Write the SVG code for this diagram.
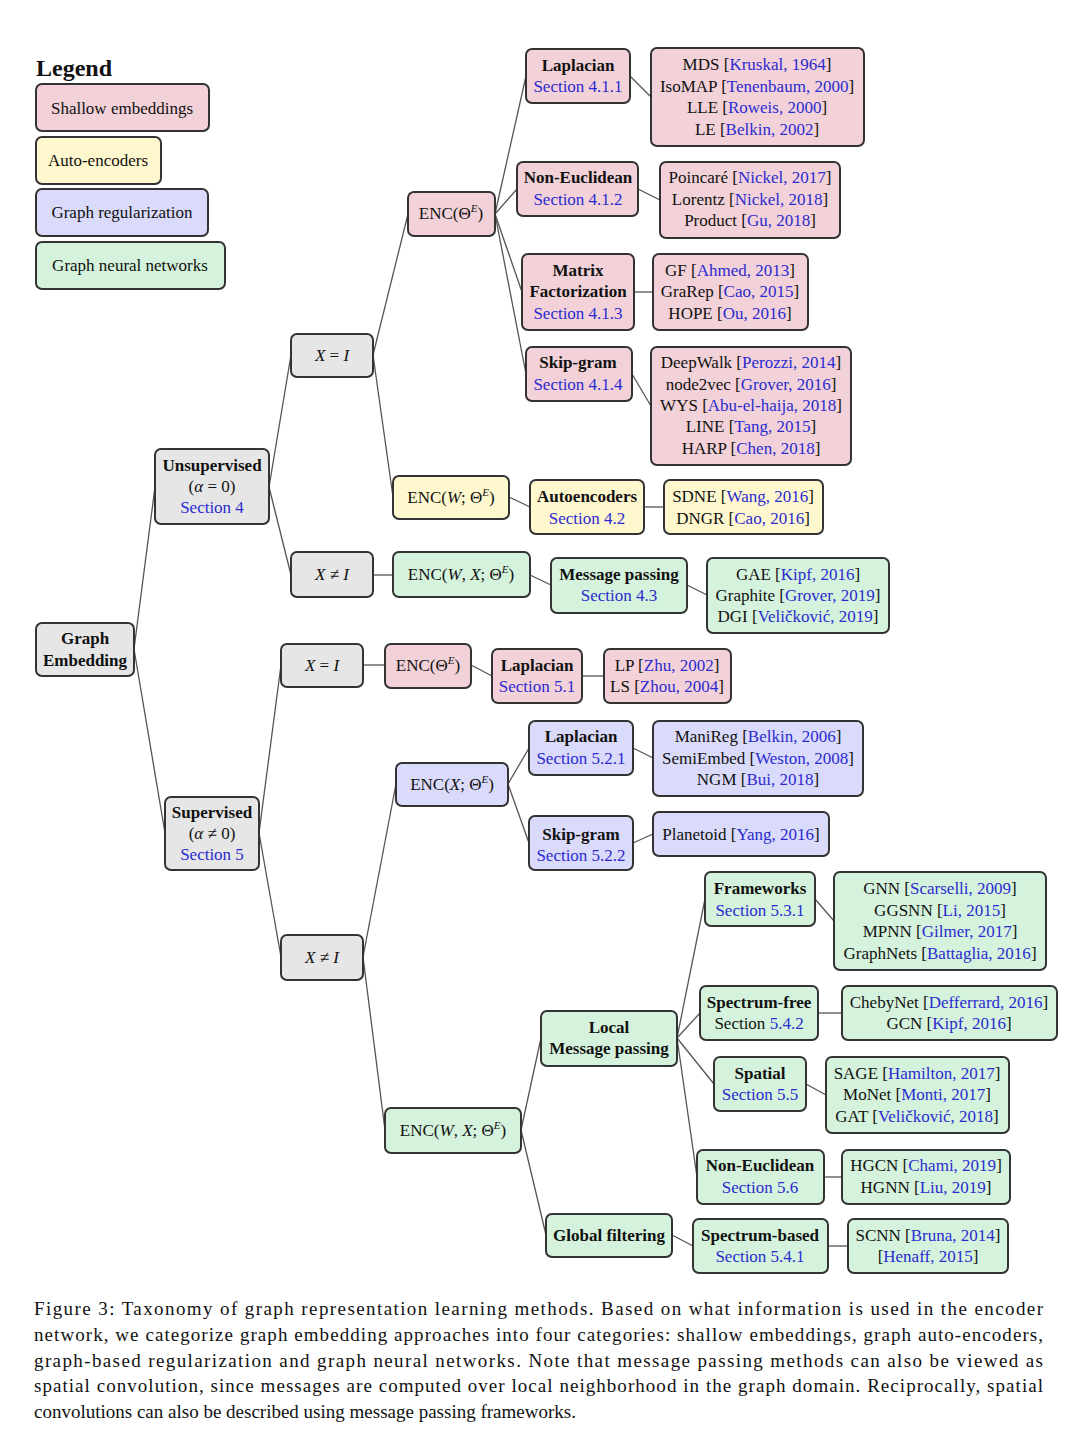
<svg xmlns="http://www.w3.org/2000/svg" width="1074" height="1448" viewBox="0 0 1074 1448">
<style>
text{font-family:"Liberation Serif","DejaVu Serif",serif;font-size:17px;fill:#111;text-anchor:middle}
.b{fill:#2b2bd0}
.bd{font-weight:bold}
.i{font-style:italic}
.cap{text-anchor:start;font-size:19px}
rect{stroke:#333;stroke-width:2;rx:6;ry:6}
.pk{fill:#f2d1d8}.ye{fill:#fff8cf}.bl{fill:#dadafa}.gr{fill:#d5f3dc}.gy{fill:#e6e6e6}
#conn line{stroke:#555;stroke-width:1.3}
</style>
<rect width="1074" height="1448" fill="#fff" style="stroke:none"/>
<g id="conn">
<line x1="134" y1="649" x2="155" y2="487"/><line x1="134" y1="649" x2="165" y2="833"/>
<line x1="269" y1="487" x2="291" y2="355"/><line x1="269" y1="487" x2="291" y2="575"/>
<line x1="373" y1="355" x2="408" y2="214"/><line x1="373" y1="355" x2="393" y2="497"/>
<line x1="373" y1="575" x2="393" y2="575"/>
<line x1="495" y1="214" x2="526" y2="76"/><line x1="495" y1="214" x2="517" y2="189"/>
<line x1="495" y1="214" x2="522" y2="292"/><line x1="495" y1="214" x2="526" y2="374"/>
<line x1="630" y1="76" x2="651" y2="97"/><line x1="638" y1="189" x2="660" y2="200"/>
<line x1="634" y1="292" x2="653" y2="292"/><line x1="632" y1="374" x2="651" y2="406"/>
<line x1="509" y1="497" x2="530" y2="507"/><line x1="644" y1="507" x2="664" y2="507"/>
<line x1="530" y1="575" x2="551" y2="585"/><line x1="687" y1="585" x2="707" y2="595"/>
<line x1="259" y1="833" x2="281" y2="665"/><line x1="259" y1="833" x2="281" y2="957"/>
<line x1="363" y1="665" x2="385" y2="665"/><line x1="471" y1="665" x2="492" y2="676"/><line x1="582" y1="676" x2="604" y2="676"/>
<line x1="363" y1="957" x2="396" y2="784"/><line x1="363" y1="957" x2="385" y2="1130"/>
<line x1="508" y1="784" x2="529" y2="748"/><line x1="508" y1="784" x2="529" y2="843"/>
<line x1="633" y1="748" x2="653" y2="758"/><line x1="633" y1="843" x2="653" y2="834"/>
<line x1="521" y1="1130" x2="541" y2="1038"/><line x1="521" y1="1130" x2="546" y2="1235"/>
<line x1="677" y1="1038" x2="705" y2="899"/><line x1="677" y1="1038" x2="700" y2="1013"/>
<line x1="677" y1="1038" x2="714" y2="1084"/><line x1="677" y1="1038" x2="697" y2="1177"/>
<line x1="815" y1="899" x2="834" y2="921"/><line x1="818" y1="1013" x2="842" y2="1013"/>
<line x1="806" y1="1084" x2="826" y2="1095"/><line x1="824" y1="1177" x2="842" y2="1177"/>
<line x1="672" y1="1235" x2="693" y2="1246"/><line x1="828" y1="1246" x2="848" y2="1246"/>
</g>
<g id="legend">
<text x="36" y="76" style="text-anchor:start;font-size:24px" class="bd">Legend</text>
<rect class="pk" x="36" y="84" width="173" height="47"/><text x="122" y="114">Shallow embeddings</text>
<rect class="ye" x="36" y="137" width="125" height="47"/><text x="98" y="166">Auto-encoders</text>
<rect class="bl" x="36" y="189" width="172" height="47"/><text x="122" y="218">Graph regularization</text>
<rect class="gr" x="36" y="242" width="189" height="47"/><text x="130" y="271">Graph neural networks</text>
</g>
<g id="n-ge"><rect class="gy" x="36" y="623" width="98" height="53"/><text x="85" y="644" class="bd">Graph</text><text x="85" y="666" class="bd">Embedding</text></g>
<g id="n-unsup"><rect class="gy" x="155" y="449" width="114" height="75"/><text x="212" y="471" class="bd">Unsupervised</text><text x="212" y="492">(<tspan class="i">α</tspan> = 0)</text><text x="212" y="513" class="b">Section 4</text></g>
<g id="n-sup"><rect class="gy" x="165" y="797" width="94" height="73"/><text x="212" y="818" class="bd">Supervised</text><text x="212" y="839">(<tspan class="i">α</tspan> ≠ 0)</text><text x="212" y="860" class="b">Section 5</text></g>
<g id="n-xi1"><rect class="gy" x="291" y="334" width="82" height="43"/><text x="332" y="361"><tspan class="i">X</tspan> = <tspan class="i">I</tspan></text></g>
<g id="n-xn1"><rect class="gy" x="291" y="552" width="82" height="45"/><text x="332" y="580"><tspan class="i">X</tspan> ≠ <tspan class="i">I</tspan></text></g>
<g id="n-enc1"><rect class="pk" x="408" y="192" width="87" height="44"/><text x="451" y="219">ENC(Θ<tspan dy="-7" font-size="11" class="i">E</tspan><tspan dy="7">)</tspan></text></g>
<g id="n-enc2"><rect class="ye" x="393" y="476" width="116" height="43"/><text x="451" y="503">ENC(<tspan class="i">W</tspan>; Θ<tspan dy="-7" font-size="11" class="i">E</tspan><tspan dy="7">)</tspan></text></g>
<g id="n-enc3"><rect class="gr" x="393" y="552" width="137" height="45"/><text x="461" y="580">ENC(<tspan class="i">W</tspan>, <tspan class="i">X</tspan>; Θ<tspan dy="-7" font-size="11" class="i">E</tspan><tspan dy="7">)</tspan></text></g>
<g id="n-lap1"><rect class="pk" x="526" y="49" width="104" height="54"/><text x="578" y="71" class="bd">Laplacian</text><text x="578" y="92" class="b">Section 4.1.1</text></g>
<g id="n-ne1"><rect class="pk" x="517" y="162" width="121" height="54"/><text x="578" y="183" class="bd">Non-Euclidean</text><text x="578" y="205" class="b">Section 4.1.2</text></g>
<g id="n-mf"><rect class="pk" x="522" y="254" width="112" height="76"/><text x="578" y="276" class="bd">Matrix</text><text x="578" y="297" class="bd">Factorization</text><text x="578" y="319" class="b">Section 4.1.3</text></g>
<g id="n-sg1"><rect class="pk" x="526" y="347" width="106" height="54"/><text x="578" y="368" class="bd">Skip-gram</text><text x="578" y="390" class="b">Section 4.1.4</text></g>
<g id="l-mds"><rect class="pk" x="651" y="48" width="213" height="98"/>
<text x="757" y="70">MDS [<tspan class="b">Kruskal, 1964</tspan>]</text><text x="757" y="92">IsoMAP [<tspan class="b">Tenenbaum, 2000</tspan>]</text><text x="757" y="113">LLE [<tspan class="b">Roweis, 2000</tspan>]</text><text x="757" y="135">LE [<tspan class="b">Belkin, 2002</tspan>]</text></g>
<g id="l-poin"><rect class="pk" x="660" y="162" width="180" height="76"/>
<text x="750" y="183">Poincaré [<tspan class="b">Nickel, 2017</tspan>]</text><text x="750" y="205">Lorentz [<tspan class="b">Nickel, 2018</tspan>]</text><text x="750" y="226">Product [<tspan class="b">Gu, 2018</tspan>]</text></g>
<g id="l-gf"><rect class="pk" x="653" y="254" width="155" height="76"/>
<text x="730" y="276">GF [<tspan class="b">Ahmed, 2013</tspan>]</text><text x="730" y="297">GraRep [<tspan class="b">Cao, 2015</tspan>]</text><text x="730" y="319">HOPE [<tspan class="b">Ou, 2016</tspan>]</text></g>
<g id="l-dw"><rect class="pk" x="651" y="347" width="200" height="118"/>
<text x="751" y="368">DeepWalk [<tspan class="b">Perozzi, 2014</tspan>]</text><text x="751" y="390">node2vec [<tspan class="b">Grover, 2016</tspan>]</text><text x="751" y="411">WYS [<tspan class="b">Abu-el-haija, 2018</tspan>]</text><text x="751" y="432">LINE [<tspan class="b">Tang, 2015</tspan>]</text><text x="751" y="454">HARP [<tspan class="b">Chen, 2018</tspan>]</text></g>
<g id="n-ae"><rect class="ye" x="530" y="480" width="114" height="54"/><text x="587" y="502" class="bd">Autoencoders</text><text x="587" y="524" class="b">Section 4.2</text></g>
<g id="l-sdne"><rect class="ye" x="664" y="480" width="159" height="54"/><text x="743" y="502">SDNE [<tspan class="b">Wang, 2016</tspan>]</text><text x="743" y="524">DNGR [<tspan class="b">Cao, 2016</tspan>]</text></g>
<g id="n-mp"><rect class="gr" x="551" y="558" width="136" height="55"/><text x="619" y="580" class="bd">Message passing</text><text x="619" y="601" class="b">Section 4.3</text></g>
<g id="l-gae"><rect class="gr" x="707" y="558" width="182" height="75"/><text x="798" y="580">GAE [<tspan class="b">Kipf, 2016</tspan>]</text><text x="798" y="601">Graphite [<tspan class="b">Grover, 2019</tspan>]</text><text x="798" y="622">DGI [<tspan class="b">Veličković, 2019</tspan>]</text></g>
<g id="n-xi2"><rect class="gy" x="281" y="644" width="82" height="43"/><text x="322" y="671"><tspan class="i">X</tspan> = <tspan class="i">I</tspan></text></g>
<g id="n-xn2"><rect class="gy" x="281" y="935" width="82" height="45"/><text x="322" y="963"><tspan class="i">X</tspan> ≠ <tspan class="i">I</tspan></text></g>
<g id="n-enc4"><rect class="pk" x="385" y="644" width="86" height="44"/><text x="428" y="671">ENC(Θ<tspan dy="-7" font-size="11" class="i">E</tspan><tspan dy="7">)</tspan></text></g>
<g id="n-lap51"><rect class="pk" x="492" y="649" width="90" height="54"/><text x="537" y="671" class="bd">Laplacian</text><text x="537" y="692" class="b">Section 5.1</text></g>
<g id="l-lp"><rect class="pk" x="604" y="649" width="127" height="54"/><text x="667" y="671">LP [<tspan class="b">Zhu, 2002</tspan>]</text><text x="667" y="692">LS [<tspan class="b">Zhou, 2004</tspan>]</text></g>
<g id="n-enc5"><rect class="bl" x="396" y="763" width="112" height="43"/><text x="452" y="790">ENC(<tspan class="i">X</tspan>; Θ<tspan dy="-7" font-size="11" class="i">E</tspan><tspan dy="7">)</tspan></text></g>
<g id="n-lap521"><rect class="bl" x="529" y="721" width="104" height="54"/><text x="581" y="742" class="bd">Laplacian</text><text x="581" y="764" class="b">Section 5.2.1</text></g>
<g id="l-mani"><rect class="bl" x="653" y="721" width="210" height="75"/><text x="758" y="742">ManiReg [<tspan class="b">Belkin, 2006</tspan>]</text><text x="758" y="764">SemiEmbed [<tspan class="b">Weston, 2008</tspan>]</text><text x="758" y="785">NGM [<tspan class="b">Bui, 2018</tspan>]</text></g>
<g id="n-sg2"><rect class="bl" x="529" y="816" width="104" height="54"/><text x="581" y="840" class="bd">Skip-gram</text><text x="581" y="861" class="b">Section 5.2.2</text></g>
<g id="l-plan"><rect class="bl" x="653" y="812" width="176" height="44"/><text x="741" y="840">Planetoid [<tspan class="b">Yang, 2016</tspan>]</text></g>
<g id="n-enc6"><rect class="gr" x="385" y="1108" width="136" height="45"/><text x="453" y="1136">ENC(<tspan class="i">W</tspan>, <tspan class="i">X</tspan>; Θ<tspan dy="-7" font-size="11" class="i">E</tspan><tspan dy="7">)</tspan></text></g>
<g id="n-lmp"><rect class="gr" x="541" y="1011" width="136" height="55"/><text x="609" y="1033" class="bd">Local</text><text x="609" y="1054" class="bd">Message passing</text></g>
<g id="n-gf"><rect class="gr" x="546" y="1214" width="126" height="43"/><text x="609" y="1241" class="bd">Global filtering</text></g>
<g id="n-fw"><rect class="gr" x="705" y="872" width="110" height="54"/><text x="760" y="894" class="bd">Frameworks</text><text x="760" y="916" class="b">Section 5.3.1</text></g>
<g id="l-gnn"><rect class="gr" x="834" y="872" width="212" height="98"/><text x="940" y="894">GNN [<tspan class="b">Scarselli, 2009</tspan>]</text><text x="940" y="916">GGSNN [<tspan class="b">Li, 2015</tspan>]</text><text x="940" y="937">MPNN [<tspan class="b">Gilmer, 2017</tspan>]</text><text x="940" y="959">GraphNets [<tspan class="b">Battaglia, 2016</tspan>]</text></g>
<g id="n-sf"><rect class="gr" x="700" y="986" width="118" height="54"/><text x="759" y="1008" class="bd">Spectrum-free</text><text x="759" y="1029">Section <tspan class="b">5.4.2</tspan></text></g>
<g id="l-cheb"><rect class="gr" x="842" y="986" width="215" height="54"/><text x="949" y="1008">ChebyNet [<tspan class="b">Defferrard, 2016</tspan>]</text><text x="949" y="1029">GCN [<tspan class="b">Kipf, 2016</tspan>]</text></g>
<g id="n-sp"><rect class="gr" x="714" y="1057" width="92" height="54"/><text x="760" y="1079" class="bd">Spatial</text><text x="760" y="1100" class="b">Section 5.5</text></g>
<g id="l-sage"><rect class="gr" x="826" y="1057" width="183" height="76"/><text x="917" y="1079">SAGE [<tspan class="b">Hamilton, 2017</tspan>]</text><text x="917" y="1100">MoNet [<tspan class="b">Monti, 2017</tspan>]</text><text x="917" y="1122">GAT [<tspan class="b">Veličković, 2018</tspan>]</text></g>
<g id="n-ne2"><rect class="gr" x="697" y="1150" width="127" height="54"/><text x="760" y="1171" class="bd">Non-Euclidean</text><text x="760" y="1193" class="b">Section 5.6</text></g>
<g id="l-hgcn"><rect class="gr" x="842" y="1150" width="168" height="54"/><text x="926" y="1171">HGCN [<tspan class="b">Chami, 2019</tspan>]</text><text x="926" y="1193">HGNN [<tspan class="b">Liu, 2019</tspan>]</text></g>
<g id="n-sb"><rect class="gr" x="693" y="1219" width="135" height="54"/><text x="760" y="1241" class="bd">Spectrum-based</text><text x="760" y="1262" class="b">Section 5.4.1</text></g>
<g id="l-scnn"><rect class="gr" x="848" y="1219" width="160" height="54"/><text x="928" y="1241">SCNN [<tspan class="b">Bruna, 2014</tspan>]</text><text x="928" y="1262">[<tspan class="b">Henaff, 2015</tspan>]</text></g>
<g id="caption">
<text class="cap" x="34" y="1315" textLength="1009" lengthAdjust="spacing">Figure 3:  Taxonomy of graph representation learning methods.  Based on what information is used in the encoder</text>
<text class="cap" x="34" y="1341" textLength="1009" lengthAdjust="spacing">network, we categorize graph embedding approaches into four categories: shallow embeddings, graph auto-encoders,</text>
<text class="cap" x="34" y="1367" textLength="1009" lengthAdjust="spacing">graph-based regularization and graph neural networks.  Note that message passing methods can also be viewed as</text>
<text class="cap" x="34" y="1392" textLength="1009" lengthAdjust="spacing">spatial convolution, since messages are computed over local neighborhood in the graph domain.  Reciprocally, spatial</text>
<text class="cap" x="34" y="1418">convolutions can also be described using message passing frameworks.</text>
</g>
</svg>
